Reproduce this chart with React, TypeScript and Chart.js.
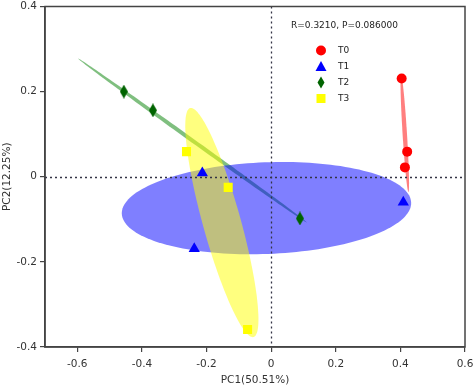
import React, { useEffect, useRef } from "react";
import { Chart, registerables } from "chart.js";

Chart.register(...registerables);

// ---- data ----
const groups = ["T0", "T1", "T2", "T3"];
const t0X = [0.404, 0.421, 0.414];
const t0Y = [0.231, 0.059, 0.022];
const t1X = [0.409, -0.213, -0.238];
const t1Y = [-0.06, 0.009, -0.169];
const t2X = [-0.456, -0.366, 0.089];
const t2Y = [0.2, 0.156, -0.098];
const t3X = [-0.262, -0.133, -0.073];
const t3Y = [0.059, -0.025, -0.359];

const xTicks = [-0.6, -0.4, -0.2, 0, 0.2, 0.4, 0.6];
const yTicks = [-0.4, -0.2, 0, 0.2, 0.4];

// confidence ellipses (T0..T3): centre and semi-axis vectors in data units
const ellipseCenterX = [0.4136, -0.0145, -0.2436, -0.1526];
const ellipseCenterY = [0.1011, -0.0737, 0.0851, -0.1076];
const ellipseMajorX = [0.0113, 0.4478, 0.3537, 0.0981];
const ellipseMajorY = [-0.1368, 0.0133, -0.1925, -0.269];
const ellipseMinorX = [0.0068, 0.0056, -0.0036, 0.0566];
const ellipseMinorY = [0.0003, -0.1076, -0.0038, 0.0117];
const ellipseOrder = [2, 0, 1, 3];

const statText = "R=0.3210, P=0.086000";
const xTitle = "PC1(50.51%)";
const yTitle = "PC2(12.25%)";

const pointColors = ["#ff0000", "#0000ff", "#006400", "#ffff00"];
const ellipseColors = [
  "rgba(255,0,0,0.5)",
  "rgba(0,0,255,0.5)",
  "rgba(0,128,0,0.5)",
  "rgba(255,255,0,0.5)",
];

const FONT = "'DejaVu Sans', Verdana, sans-serif";

function makeDiamond(w: number, h: number, color: string) {
  const c = document.createElement("canvas");
  c.width = w;
  c.height = h;
  const g = c.getContext("2d")!;
  g.beginPath();
  g.moveTo(w / 2, 0);
  g.lineTo(w, h / 2);
  g.lineTo(w / 2, h);
  g.lineTo(0, h / 2);
  g.closePath();
  g.fillStyle = color;
  g.fill();
  return c;
}

function drawMarker(ctx: CanvasRenderingContext2D, kind: number, x: number, y: number) {
  ctx.beginPath();
  if (kind === 0) {
    ctx.arc(x, y, 5, 0, Math.PI * 2);
  } else if (kind === 1) {
    ctx.moveTo(x, y - 5.5);
    ctx.lineTo(x + 5.5, y + 4.5);
    ctx.lineTo(x - 5.5, y + 4.5);
    ctx.closePath();
  } else if (kind === 2) {
    ctx.moveTo(x, y - 6);
    ctx.lineTo(x + 3.5, y);
    ctx.lineTo(x, y + 6);
    ctx.lineTo(x - 3.5, y);
    ctx.closePath();
  } else {
    ctx.rect(x - 4.5, y - 4.5, 9, 9);
  }
  ctx.fillStyle = pointColors[kind];
  ctx.fill();
}

const pcaPlugin = {
  id: "pcaDecor",
  beforeDatasetsDraw(chart: any) {
    const { ctx, chartArea, scales } = chart;
    const xs = scales.x;
    const ys = scales.y;
    ctx.save();
    ctx.beginPath();
    ctx.rect(chartArea.left, chartArea.top, chartArea.right - chartArea.left, chartArea.bottom - chartArea.top);
    ctx.clip();
    for (const i of ellipseOrder) {
      ctx.beginPath();
      const n = 160;
      for (let k = 0; k <= n; k++) {
        const t = (k / n) * Math.PI * 2;
        const dx = ellipseCenterX[i] + Math.cos(t) * ellipseMajorX[i] + Math.sin(t) * ellipseMinorX[i];
        const dy = ellipseCenterY[i] + Math.cos(t) * ellipseMajorY[i] + Math.sin(t) * ellipseMinorY[i];
        const px = xs.getPixelForValue(dx);
        const py = ys.getPixelForValue(dy);
        if (k === 0) ctx.moveTo(px, py);
        else ctx.lineTo(px, py);
      }
      ctx.closePath();
      ctx.fillStyle = ellipseColors[i];
      ctx.fill();
    }
    // dashed zero lines
    ctx.setLineDash([2, 3]);
    ctx.strokeStyle = "#333344";
    ctx.lineWidth = 1.3;
    const x0 = Math.round(xs.getPixelForValue(0)) + 0.5;
    const y0 = Math.round(ys.getPixelForValue(0)) + 0.5;
    ctx.beginPath();
    ctx.moveTo(x0, chartArea.top);
    ctx.lineTo(x0, chartArea.bottom);
    ctx.moveTo(chartArea.left, y0);
    ctx.lineTo(chartArea.right, y0);
    ctx.stroke();
    ctx.restore();
  },
  afterDraw(chart: any) {
    const { ctx, chartArea } = chart;
    ctx.save();
    ctx.strokeStyle = "#444";
    ctx.lineWidth = 1.5;
    ctx.strokeRect(chartArea.left, chartArea.top, chartArea.right - chartArea.left, chartArea.bottom - chartArea.top);

    const L = chartArea.left;
    const T = chartArea.top;
    ctx.font = `9px ${FONT}`;
    ctx.fillStyle = "#222";
    ctx.textBaseline = "middle";
    ctx.textAlign = "left";
    ctx.fillText(statText, L + 246, T + 19);

    const ly = [44, 60, 76, 92];
    for (let i = 0; i < groups.length; i++) {
      drawMarker(ctx, i, L + 276, T + ly[i]);
      ctx.fillStyle = "#222";
      ctx.fillText(groups[i], L + 293, T + ly[i]);
    }
    ctx.restore();
  },
};

export default function App() {
  const ref = useRef<HTMLCanvasElement | null>(null);
  useEffect(() => {
    document.body.style.margin = "0";
    const diamond = makeDiamond(8, 14, pointColors[2]);
    const mk = (xs: number[], ys: number[]) => xs.map((v, i) => ({ x: v, y: ys[i] }));
    const chart = new Chart(ref.current!, {
      type: "scatter",
      data: {
        datasets: [
          { label: groups[0], data: mk(t0X, t0Y), pointStyle: "circle", pointRadius: 5, backgroundColor: pointColors[0], borderWidth: 0 },
          { label: groups[1], data: mk(t1X, t1Y), pointStyle: "triangle", pointRadius: 6.5, backgroundColor: pointColors[1], borderWidth: 0 },
          { label: groups[2], data: mk(t2X, t2Y), pointStyle: diamond as any, pointRadius: 6, backgroundColor: pointColors[2], borderWidth: 0 },
          { label: groups[3], data: mk(t3X, t3Y), pointStyle: "rect", pointRadius: 6.4, backgroundColor: pointColors[3], borderWidth: 0 },
        ],
      },
      options: {
        responsive: false,
        animation: false,
        layout: { padding: { left: 0, right: 9, top: 5, bottom: 0 } },
        plugins: { legend: { display: false }, tooltip: { enabled: false } },
        scales: {
          x: {
            type: "linear",
            min: -0.7,
            max: 0.6,
            afterBuildTicks: (s: any) => {
              s.ticks = xTicks.map((v) => ({ value: v }));
            },
            afterFit: (s: any) => {
              s.height = 40;
              s.paddingLeft = 0;
              s.paddingRight = 0;
            },
            grid: { drawOnChartArea: false, drawTicks: true, tickLength: 5, color: "#444", lineWidth: 1.2 },
            border: { display: true, color: "#444", width: 1.5 },
            ticks: {
              color: "#333",
              font: { size: 10.5, family: FONT },
              padding: 6,
              maxRotation: 0,
              callback: (v: any) => String(Math.round(Number(v) * 10) / 10),
            },
            title: { display: true, text: xTitle, color: "#333", font: { size: 10.5, family: FONT }, padding: { top: 0, bottom: 0 } },
          },
          y: {
            type: "linear",
            min: -0.4,
            max: 0.4,
            afterBuildTicks: (s: any) => {
              s.ticks = yTicks.map((v) => ({ value: v }));
            },
            afterFit: (s: any) => {
              s.width = 45;
              s.paddingTop = 0;
              s.paddingBottom = 0;
            },
            grid: { drawOnChartArea: false, drawTicks: true, tickLength: 5, color: "#444", lineWidth: 1.2 },
            border: { display: true, color: "#444", width: 1.5 },
            ticks: {
              color: "#333",
              font: { size: 10.5, family: FONT },
              padding: 3,
              callback: (v: any) => String(Math.round(Number(v) * 10) / 10),
            },
            title: { display: true, text: yTitle, color: "#333", font: { size: 10.5, family: FONT }, padding: { top: 1, bottom: 0 } },
          },
        },
      },
      plugins: [pcaPlugin],
    });
    return () => chart.destroy();
  }, []);
  return (
    <div style={{ position: "fixed", left: 0, top: 0, width: 474, height: 387, background: "#fff" }}>
      <canvas ref={ref} width={474} height={387} />
    </div>
  );
}
